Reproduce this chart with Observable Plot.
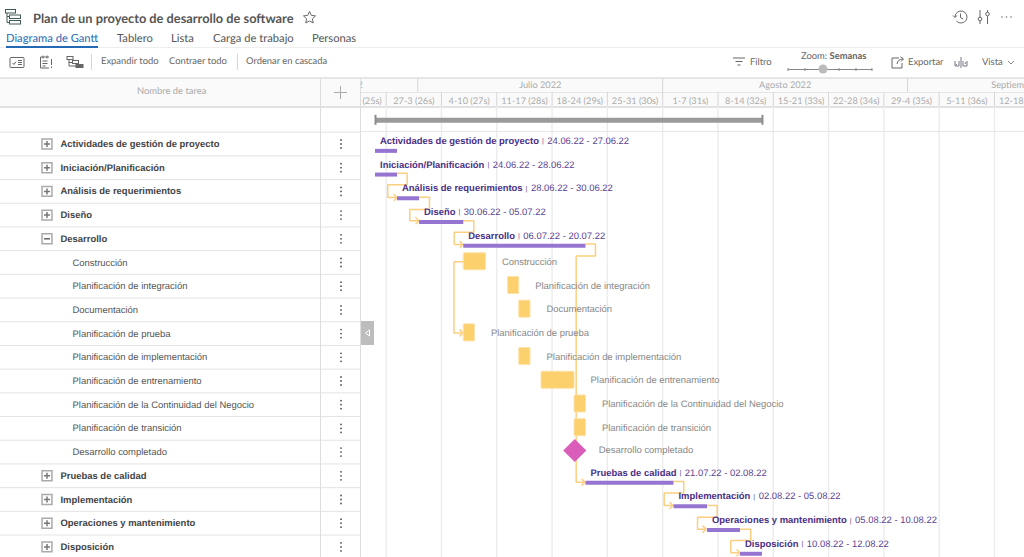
<!DOCTYPE html>
<html lang="es">
<head>
<meta charset="utf-8">
<title>Plan de un proyecto de desarrollo de software</title>
<script src="https://cdn.jsdelivr.net/npm/d3@7"></script>
<script src="https://cdn.jsdelivr.net/npm/@observablehq/plot@0.6"></script>
<style>
  html, body { margin: 0; padding: 0; background: #fff; }
  #page { position: relative; width: 1024px; height: 557px; overflow: hidden; font-family: Lato, sans-serif; color: #555; text-rendering: geometricPrecision; }
  #page > * { position: absolute; }
  .t { white-space: nowrap; line-height: 1; }
  .tab { font-size: 11.2px; top: 33.400px; color: #555; }
  .tool { font-size: 9.400px; top: 57.300px; color: #666; }
  .hline { left: 0; width: 1024px; height: 1px; background: #e8e8e8; }
  .vsep { width: 1px; background: #d5d5d5; }
  svg.i { fill: none; stroke: #666; stroke-width: 1; }
</style>
</head>
<body>
<div id="page">
  <div style="left:0;top:78px;width:1024px;height:28px;background:#fafafa"></div>
  <div class="hline" style="top:47px;background:#eee"></div>
  <div class="hline" style="top:77px;height:2px;background:#e6e6e6"></div>
  <div class="hline" style="top:106px;height:2px;background:#e2e2e2"></div>
  <div class="hline" style="top:92px;left:361px;width:663px;background:#e6e6e6"></div>

  <div id="taskPanel" style="left:0;top:78px;width:361px;height:479px"></div>
  <div id="gantt" style="left:361px;top:78px;width:663px;height:479px"></div>

  <div class="vsep" style="left:320px;top:78px;height:479px;background:#ddd"></div>
  <div class="vsep" style="left:360px;top:78px;height:479px;background:#ddd"></div>

  <svg class="i" style="left:4px;top:8px;stroke:#3f5d58" width="20" height="18"><rect x="1.5" y="1.5" width="10" height="3.5"/><rect x="5.5" y="7" width="11" height="3.5"/><rect x="5.5" y="12.5" width="11" height="3.5"/><path d="M3 5v9.5h2.5M3 8.5h2.5"/></svg>
  <div class="t" style="left:33px;top:11.600px;font-size:12.800px;font-weight:700;color:#555">Plan de un proyecto de desarrollo de software</div>
  <svg class="i" style="left:302px;top:10px" width="15" height="15"><path d="M7.5 1.5l1.8 3.9 4.2.5-3.1 2.9.8 4.2-3.7-2.1-3.7 2.1.8-4.2L1.5 5.900l4.2-.5z"/></svg>

  <div class="t tab" style="left:6px;color:#2469b3">Diagrama de Gantt</div>
  <div style="left:6px;top:46px;width:92px;height:2px;background:#2469b3"></div>
  <div class="t tab" style="left:117px">Tablero</div>
  <div class="t tab" style="left:171px">Lista</div>
  <div class="t tab" style="left:213px">Carga de trabajo</div>
  <div class="t tab" style="left:312px">Personas</div>

  <svg class="i" style="left:9px;top:56px" width="17" height="13"><rect x="1" y="1.5" width="14" height="10" rx="1"/><path d="M3.5 7l1.5 1.5 2-3M9 4.5h4M9 6.5h4M9 8.5h4"/></svg>
  <svg class="i" style="left:38px;top:54px" width="16" height="16"><path d="M11 3H2.5v11H11M5 1.5v3M9 1.5v3M4.5 7h5M4.5 9.500h5M4.500 12h3M13.500 5v6M13.500 12.500v1.500"/></svg>
  <svg class="i" style="left:66px;top:55px" width="18" height="14"><rect x="1" y="1.500" width="6" height="3"/><rect x="6.500" y="5.500" width="6" height="3"/><rect x="10" y="9.500" width="7" height="3" fill="#666"/><path d="M3 4.500v3h3.500M3 7v4h7"/></svg>
  <div class="vsep" style="left:91px;top:54px;height:16px"></div>
  <div class="t tool" style="left:101px">Expandir todo</div>
  <div class="t tool" style="left:169px">Contraer todo</div>
  <div class="vsep" style="left:237px;top:54px;height:16px"></div>
  <div class="t tool" style="left:246px">Ordenar en cascada</div>

  <svg class="i" style="left:732px;top:56px" width="15" height="12"><path d="M1 2h12M3.500 5.500h7M5.500 9h3"/></svg>
  <div class="t tool" style="left:750px;top:58.300px">Filtro</div>
  <div class="t tool" style="left:801px;top:52.300px">Zoom: <b style="font-weight:700">Semanas</b></div>
  <svg style="left:786px;top:63px" width="90" height="12"><path d="M2 6.500h84" stroke="#888" stroke-width="1"/><path d="M2 5v3M19 5v3M70 5v3M86 5v3M53 5v3" stroke="#888"/><circle cx="37" cy="6" r="4.500" fill="#bbb"/></svg>
  <svg class="i" style="left:890px;top:55px" width="16" height="15"><path d="M9 3H2v10h10V8M7 9c.5-3 2.500-5 6-5M10.500 1.800L13.500 4l-2.500 2.500"/></svg>
  <div class="t tool" style="left:908px;top:58.300px">Exportar</div>
  <svg class="i" style="left:954px;top:56px;stroke:#778" width="14" height="13"><path d="M1 5v5h4V5M9 5v5h4V5M7 1v11M2 8l1 1M11 8l1-2"/></svg>
  <div class="t tool" style="left:982px;top:58.300px">Vista</div>
  <svg class="i" style="left:1007px;top:60px;stroke:#888" width="8" height="6"><path d="M1 1l3 3 3-3"/></svg>

  <svg class="i" style="left:952px;top:9px" width="16" height="16"><path d="M3 8a6 6 0 1 1 1.500 4M1 6.500l2 2 2-2M8.500 4.500v4l2.500 1.500"/></svg>
  <svg class="i" style="left:977px;top:9px" width="14" height="16"><path d="M3 1v7M3 12v3M10.500 1v2M10.500 7v8"/><circle cx="3" cy="10" r="1.800"/><circle cx="10.500" cy="5" r="1.800"/></svg>
  <svg style="left:1000px;top:15px" width="13" height="4"><g fill="#777"><circle cx="2" cy="2" r=".8"/><circle cx="6.500" cy="2" r=".8"/><circle cx="11" cy="2" r=".8"/></g></svg>

  <div class="t" style="left:137px;top:87.300px;font-size:9.400px;color:#aaa">Nombre de tarea</div>
  <svg style="left:333px;top:85px" width="15" height="15"><path d="M7.500 1v13M1 7.500h13" stroke="#aaa" stroke-width="1"/></svg>
  <div style="left:361px;top:321px;width:13px;height:24px;background:#bdbdbd"></div>
  <svg style="left:364px;top:329px" width="7" height="8"><path d="M5.500 1L1.500 4l4 3z" fill="none" stroke="#fff"/></svg>
</div>

<script>
// ---- Task list (row index = position in this list) ----
const taskNames = [
  "Actividades de gestión de proyecto", "Iniciación/Planificación", "Análisis de requerimientos",
  "Diseño", "Desarrollo", "Construcción", "Planificación de integración", "Documentación",
  "Planificación de prueba", "Planificación de implementación", "Planificación de entrenamiento",
  "Planificación de la Continuidad del Negocio", "Planificación de transición", "Desarrollo completado",
  "Pruebas de calidad", "Implementación", "Operaciones y mantenimiento", "Disposición"
];

// ---- Phases (purple bars); days counted from 27 June 2022 as drawn on the timeline ----
const phaseRows  = [0, 1, 2, 3, 4, 14, 15, 16, 17];
const phaseStart = [-1.35, -1.35, 1.43, 4.22, 9.82, 25.29, 36.43, 40.67, 44.85];
const phaseEnd   = [1.43, 1.43, 4.22, 9.82, 25.29, 36.43, 40.67, 44.85, 47.63];
const phaseDates = [
  "24.06.22 - 27.06.22", "24.06.22 - 28.06.22", "28.06.22 - 30.06.22", "30.06.22 - 05.07.22",
  "06.07.22 - 20.07.22", "21.07.22 - 02.08.22", "02.08.22 - 05.08.22", "05.08.22 - 10.08.22",
  "10.08.22 - 12.08.22"
];

// ---- Subtasks (yellow bars) ----
const subtaskRows  = [5, 6, 7, 8, 9, 10, 11, 12];
const subtaskStart = [9.82, 15.44, 16.84, 9.82, 16.84, 19.66, 23.84, 23.84];
const subtaskEnd   = [12.63, 16.84, 18.27, 11.24, 18.27, 23.84, 25.29, 25.29];

// ---- Milestone and overall project span ----
const milestoneRow = 13;
const milestoneDay = 23.87;
const projectRow = -1;
const projectSpan = [-1.35, 47.63];

// ---- Dependency connectors: [days, rows] ----
const connectorDays = [
  [1.43, 2.66, 2.66, 0.20, 0.20, 1.18],
  [4.22, 5.48, 5.48, 2.99, 2.99, 3.96],
  [9.78, 11.09, 11.09, 8.61, 8.61, 9.53],
  [9.82, 8.58, 8.58, 9.53],
  [25.29, 26.49, 26.49, 24.05, 24.05, 24.97],
  [36.43, 37.67, 37.67, 35.19, 35.19, 36.11],
  [40.67, 41.90, 41.90, 39.41, 39.41, 40.29],
  [44.85, 46.15, 46.15, 43.62, 43.62, 44.59]
];
const connectorRows = [
  [1.23, 1.23, 1.72, 1.72, 2.26, 2.26],
  [2.25, 2.25, 2.76, 2.76, 3.24, 3.24],
  [3.24, 3.24, 3.72, 3.72, 4.24, 4.24],
  [4.97, 4.97, 7.97, 7.97],
  [4.22, 4.22, 4.73, 4.73, 14.27, 14.27],
  [14.24, 14.24, 14.73, 14.73, 15.25, 15.25],
  [15.25, 15.25, 15.75, 15.75, 16.25, 16.25],
  [16.25, 16.25, 16.73, 16.73, 17.25, 17.25]
];

// ---- Timeline header ----
const weekStarts = [-7, 0, 7, 14, 21, 28, 35, 42, 49, 56, 63, 70, 77];
const weekLabels = ["20-26 (25s)", "27-3 (26s)", "4-10 (27s)", "11-17 (28s)", "18-24 (29s)", "25-31 (30s)",
  "1-7 (31s)", "8-14 (32s)", "15-21 (33s)", "22-28 (34s)", "29-4 (35s)", "5-11 (36s)", "12-18 (37s)"];
const monthStarts = [4, 35, 66];
const monthCenters = [-5.8, 19.5, 50.5, 81];
const monthLabels = ["Junio 2022", "Julio 2022", "Agosto 2022", "Septiembre 2022"];

// ---- Built tables ----
const epoch = Date.UTC(2022, 5, 27);
const day = n => new Date(epoch + n * 864e5);
const sans = "'Liberation Sans', Arial, sans-serif";
const lato = "Lato, sans-serif";
const childRows = new Set([5, 6, 7, 8, 9, 10, 11, 12, 13]);
const openRow = 4;
const textSize = 9.45;

const phases = phaseRows.map((row, i) => ({
  row, start: day(phaseStart[i]), end: day(phaseEnd[i]),
  label: taskNames[row] + "|" + phaseDates[i]
}));
const subtasks = subtaskRows.map((row, i) => ({
  row, name: taskNames[row], start: day(subtaskStart[i]), end: day(subtaskEnd[i])
}));
const connectors = connectorDays.flatMap((ds, id) =>
  ds.map((d, i) => ({ id, x: day(d), y: connectorRows[id][i] })));
const weeks = weekStarts.map((d, i) => ({ start: day(d), mid: day(d + 3.5), label: weekLabels[i] }));
const months = monthLabels.map((label, i) => ({ label, mid: day(monthCenters[i]) }));
const rows = taskNames.map((name, row) => ({ name, row }));
const parents = rows.filter(d => !childRows.has(d.row));
const children = rows.filter(d => childRows.has(d.row));

const yScale = { domain: [0, 17], range: [65.5, 468.4], axis: null };

// Custom glyphs for the task list
const minus = { draw(ctx) { ctx.moveTo(-3, 0); ctx.lineTo(3, 0); } };
const plus = { draw(ctx) { ctx.moveTo(-3, 0); ctx.lineTo(3, 0); ctx.moveTo(0, -3); ctx.lineTo(0, 3); } };
const kebab = { draw(ctx) {
  for (const y of [-4, 0, 4]) { ctx.moveTo(0.9, y); ctx.arc(0, y, 0.9, 0, 2 * Math.PI); }
} };

// ---- Left task list ----
const panel = Plot.plot({
  width: 361, height: 479, margin: 0,
  style: { background: "transparent" },
  x: { domain: [0, 1], axis: null },
  y: yScale,
  marks: [
    Plot.ruleY([-1, ...rows.map(d => d.row)], { y: d => d + 0.5, stroke: "#e3e3e3", strokeWidth: 1 }),
    Plot.dot(parents, { y: "row", frameAnchor: "left", dx: 46.5, symbol: "square", r: 5.6, fill: "#fff", stroke: "#aaa" }),
    Plot.dot(parents.filter(d => d.row !== openRow), { y: "row", frameAnchor: "left", dx: 46.5, symbol: plus, r: 3, stroke: "#777" }),
    Plot.dot(parents.filter(d => d.row === openRow), { y: "row", frameAnchor: "left", dx: 46.5, symbol: minus, r: 3, stroke: "#666" }),
    Plot.text(parents, { y: "row", text: "name", frameAnchor: "left", textAnchor: "start", dx: 60, fontFamily: sans, fontWeight: "bold", fontSize: textSize, fill: "#444" }),
    Plot.text(children, { y: "row", text: "name", frameAnchor: "left", textAnchor: "start", dx: 72, fontFamily: sans, fontSize: textSize, fill: "#555" }),
    Plot.dot(rows, { y: "row", frameAnchor: "left", dx: 340.5, symbol: kebab, fill: "#555", r: 3 })
  ]
});
document.getElementById("taskPanel").append(panel);

// ---- Gantt timeline ----
const gantt = Plot.plot({
  width: 663, height: 479, margin: 0,
  style: { background: "transparent" },
  x: { type: "utc", domain: [day(-3.125), day(80.8)], range: [0, 663], axis: null },
  y: yScale,
  marks: [
    // grid and header separators
    Plot.ruleX(weeks, { x: "start", y1: -1.58, y2: 17.45, stroke: "#ececec", strokeWidth: 1.4 }),
    Plot.ruleX(weeks, { x: "start", y1: -2.17, y2: -1.58, stroke: "#d6d6d6" }),
    Plot.ruleX(monthStarts, { x: d => day(d), y1: -2.77, y2: -2.17, stroke: "#d6d6d6" }),
    Plot.ruleY([-0.53], { stroke: "#e6e6e6" }),
    Plot.text(months, { x: "mid", y: -2.5, text: "label", fontFamily: lato, fontSize: 9.2, fill: "#aaa" }),
    Plot.text(weeks, { x: "mid", y: -1.83, text: "label", fontFamily: lato, fontSize: 9.2, fill: "#aaa" }),

    // project span
    Plot.ruleY([projectRow], { x1: day(projectSpan[0]), x2: day(projectSpan[1]), y: d => d, stroke: "#9a9a9a", strokeWidth: 5 }),
    Plot.ruleX(projectSpan, { x: d => day(d), y1: projectRow - 0.21, y2: projectRow + 0.21, stroke: "#8c8c8c", strokeWidth: 2 }),

    // dependencies
    Plot.line(connectors, { x: "x", y: "y", z: "id", stroke: "#fbcf80", strokeWidth: 1.5, markerEnd: "arrow", strokeLinejoin: "miter" }),

    // phases
    Plot.ruleY(phases, { y: d => d.row + 0.29, x1: "start", x2: "end", stroke: "#9674d2", strokeWidth: 4 }),
    Plot.text(phases, { x: "start", y: d => d.row - 0.135, text: "label", textAnchor: "start", dx: 4.5, fontFamily: sans, fontSize: textSize, fill: "#5b4393" }),

    // subtasks
    Plot.rect(subtasks, { x1: "start", x2: "end", y1: d => d.row - 0.39, y2: d => d.row + 0.33, fill: "#fbd06d", stroke: "#fde3ab", strokeWidth: 1, rx: 1 }),
    Plot.text(subtasks, { x: "end", y: d => d.row - 0.03, text: "name", textAnchor: "start", dx: 16, fontFamily: sans, fontSize: textSize, fill: "#888" }),

    // milestone
    Plot.dot([milestoneRow], { x: () => day(milestoneDay), y: d => d - 0.07, symbol: "diamond2", r: 10.4, fill: "#d95db9" }),
    Plot.text([milestoneRow], { x: () => day(milestoneDay), y: d => d - 0.07, text: d => taskNames[d], textAnchor: "start", dx: 24, fontFamily: sans, fontSize: textSize, fill: "#888" })
  ]
});
document.getElementById("gantt").append(gantt);

// Phase labels: bold task name, small divider, then the date range in one line of text
d3.select(gantt).selectAll("text").filter(function () { return this.textContent.includes("|"); }).each(function () {
  const [name, dates] = this.textContent.split("|");
  const t = d3.select(this).text(null);
  t.append("tspan").attr("font-weight", "bold").attr("fill", "#4a2f86").text(name);
  t.append("tspan").attr("font-size", 7).attr("dx", 3).attr("dy", -0.5).text("|");
  t.append("tspan").attr("dx", 3.5).attr("dy", 0.5).text(dates);
});
</script>
</body>
</html>
